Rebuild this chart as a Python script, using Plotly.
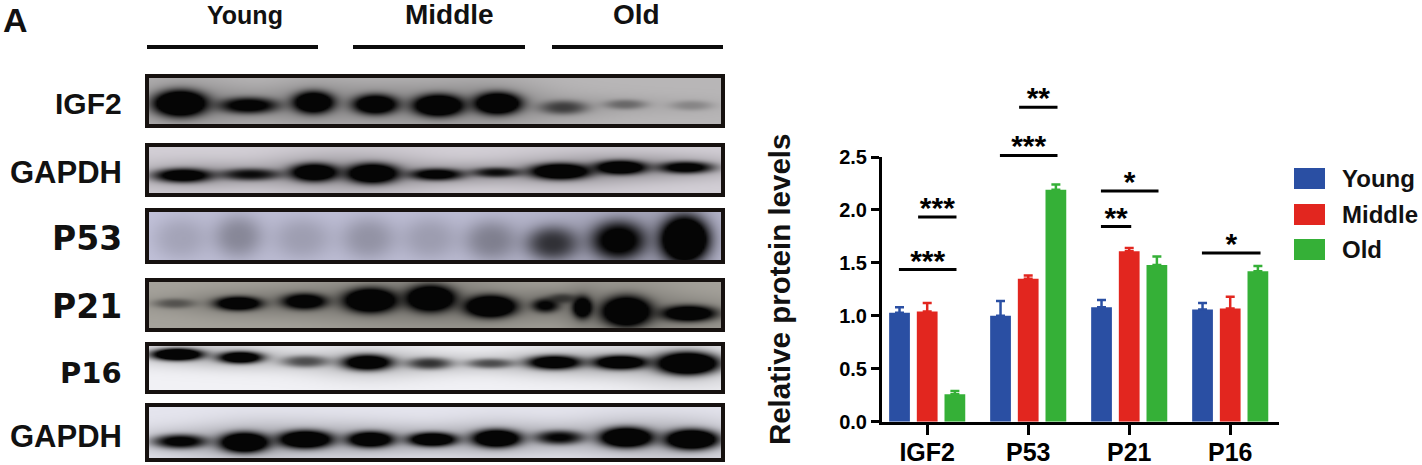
import numpy as np
import plotly.graph_objects as go

W, H = 1422, 465

# ---- bar chart values ----
proteins = ["IGF2", "P53", "P21", "P16"]
young = [1.03, 1.00, 1.08, 1.06]
middle = [1.04, 1.35, 1.61, 1.07]
old = [0.26, 2.19, 1.48, 1.42]
young_err = [0.05, 0.14, 0.07, 0.06]
middle_err = [0.08, 0.03, 0.03, 0.11]
old_err = [0.03, 0.05, 0.08, 0.05]

# significance brackets: (x0, x1, level, stars)
brackets = [
    (-0.28, 0.29, 1.437, "***"),
    (-0.09, 0.29, 1.934, "***"),
    (0.72, 1.29, 2.514, "***"),
    (0.91, 1.29, 2.97, "**"),
    (1.72, 2.29, 2.18, "*"),
    (1.72, 2.02, 1.843, "**"),
    (2.72, 3.30, 1.594, "*"),
]

# ---- western blot bands: (x, y, half width, half height, density) ----
igf2_bands = [(180, 103, 27, 13, 1.6), (248, 105, 30, 8, 1.0), (313, 102, 21, 11, 1.4),
              (375, 104, 23, 10, 1.3), (438, 105, 26, 11, 1.5), (497, 103, 24, 11, 1.5),
              (563, 107, 24, 7, .55), (625, 104, 21, 5, .35), (691, 105, 21, 5, .22)]
gapdh1_bands = [(183, 175, 30, 7, 1.1), (250, 174, 31, 6, .8), (314, 172, 25, 9, 1.3),
                (372, 173, 27, 10, 1.4), (436, 174, 28, 6, 1.0), (496, 172, 25, 5, .8),
                (560, 171, 31, 8, 1.4), (620, 167, 27, 7, 1.3), (685, 167, 28, 6, 1.0)]
p53_bands = [(179, 238, 27, 21, .13), (238, 236, 24, 21, .25), (302, 238, 28, 21, .15),
             (368, 238, 27, 21, .2), (429, 238, 27, 21, .15), (490, 240, 26, 20, .27),
             (552, 243, 26, 17, .62), (618, 240, 27, 19, 1.0), (684, 239, 24, 23, 1.6)]
p21_bands = [(174, 303, 21, 5, .4), (238, 303, 24, 7, 1.3), (304, 301, 23, 8, 1.2),
             (370, 300, 27, 12, 1.6), (430, 298, 25, 13, 1.6), (490, 306, 26, 11, 1.6),
             (545, 305, 14, 7, .9), (562, 298, 15, 5, .5), (582, 307, 10, 11, 1.3),
             (626, 311, 25, 15, 1.6), (688, 313, 28, 8, 1.3)]
p16_bands = [(177, 354, 26, 6, 1.4), (240, 357, 23, 6, 1.2), (305, 361, 24, 6, .55),
             (367, 362, 26, 8, 1.2), (429, 363, 23, 6, .65), (490, 363, 24, 5, .55),
             (554, 362, 28, 7, 1.2), (620, 362, 28, 7, 1.3), (687, 363, 31, 11, 1.6)]
gapdh2_bands = [(180, 441, 27, 7, .95), (244, 442, 25, 10, 1.5), (305, 439, 28, 9, 1.4),
                (370, 439, 24, 8, 1.3), (432, 439, 25, 7, 1.3), (496, 438, 25, 9, 1.4),
                (559, 437, 25, 7, .85), (626, 437, 27, 10, 1.5), (691, 439, 27, 10, 1.5)]

blots = [
    ("IGF2", igf2_bands, 78, 124, "#b8b6b7"),
    ("GAPDH", gapdh1_bands, 147, 193, "#d3cfd6"),
    ("P53", p53_bands, 212, 260, "#c4c4dc"),
    ("P21", p21_bands, 282, 328, "#a5a29b"),
    ("P16", p16_bands, 346, 390, "#f1f1f5"),
    ("GAPDH", gapdh2_bands, 407, 458, "#e5e5ee"),
]
blot_label_sizes = [30, 31, 33, 33, 29, 31]
blot_label_fonts = ["Liberation Sans", "Liberation Sans", "DejaVu Sans", "DejaVu Sans", "DejaVu Sans", "Liberation Sans"]
blot_left, blot_right = 149, 721


def render(bands, top, bottom):
    xs = np.arange(blot_left, blot_right + 1, 2.0)
    ys = np.arange(top, bottom + 1, 1.0)
    X, Y = np.meshgrid(xs, ys)
    light = np.ones_like(X)
    for cx, cy, rx, ry, d in bands:
        r2 = ((X - cx) / rx) ** 2 + ((Y - cy) / ry) ** 2
        core = d * np.exp(-r2 ** 1.4)
        halo = 0.22 * min(d, 1) * np.exp(-r2 / 4)
        light *= 1 - np.clip(core + halo, 0, 1)
    return xs, ys, 1 - light


fig = go.Figure()
layout = {}
FRAME = "#16110f"

for i, (name, bands, top, bottom, bg) in enumerate(blots, start=1):
    xs, ys, z = render(bands, top, bottom)
    fig.add_trace(go.Heatmap(x=xs, y=ys, z=z, zmin=0, zmax=1, zsmooth="best", showscale=False,
                             colorscale=[[0, bg], [1, "#050505"]], hoverinfo="skip",
                             xaxis=f"x{i}", yaxis=f"y{i}"))
    axis_common = dict(showgrid=False, zeroline=False, ticks="", showticklabels=False, automargin=False,
                       showline=True, mirror=True, linecolor=FRAME, linewidth=4)
    layout[f"xaxis{i}"] = dict(domain=[blot_left / W, blot_right / W], range=[blot_left, blot_right],
                               anchor=f"y{i}", **axis_common)
    layout[f"yaxis{i}"] = dict(domain=[1 - bottom / H, 1 - top / H], range=[bottom, top],
                               anchor=f"x{i}", **axis_common)

# ---- bar chart ----
positions = list(range(len(proteins)))
colors = {"Young": "#2a4fa3", "Middle": "#e2261f", "Old": "#35b037"}
for name, vals, errs in [("Young", young, young_err), ("Middle", middle, middle_err), ("Old", old, old_err)]:
    fig.add_trace(go.Bar(x=positions, y=vals, name=name, marker=dict(color=colors[name], line_width=0),
                         error_y=dict(type="data", symmetric=False, array=errs, arrayminus=[0] * 4,
                                      color=colors[name], thickness=2.5, width=4.5),
                         xaxis="x7", yaxis="y7", showlegend=False))

# brackets live on invisible axes with the same scale that run above 2.5
for x0, x1, level, stars in brackets:
    fig.add_trace(go.Scatter(x=[x0, x1], y=[level, level], mode="lines",
                             line=dict(color="black", width=3), xaxis="x8", yaxis="y8",
                             showlegend=False, hoverinfo="skip"))
    fig.add_trace(go.Scatter(x=[(x0 + x1) / 2], y=[level - 0.08], mode="text", text=[stars],
                             textposition="top center",
                             textfont=dict(family="Liberation Sans", size=30, color="black", weight="bold"),
                             xaxis="x8", yaxis="y8", showlegend=False, hoverinfo="skip"))

layout["xaxis7"] = dict(domain=[882 / W, 1279 / W], range=[-0.4475, 3.483], anchor="y7", automargin=False,
                        showgrid=False, zeroline=False, showline=True, linecolor="black", linewidth=3,
                        ticks="outside", ticklen=10, tickwidth=3, tickcolor="black",
                        tickmode="array", tickvals=positions, ticktext=proteins, ticklabelstandoff=-4,
                        tickfont=dict(family="Liberation Sans", size=25, color="black", weight="bold"))
layout["yaxis7"] = dict(domain=[1 - 421.7 / H, 1 - 157 / H], range=[0, 2.5], anchor="x7", automargin=False,
                        showgrid=False, zeroline=False, showline=True, linecolor="black", linewidth=3,
                        ticks="outside", ticklen=8, tickwidth=3, tickcolor="black",
                        tickvals=[0, 0.5, 1, 1.5, 2, 2.5], ticktext=["0.0", "0.5", "1.0", "1.5", "2.0", "2.5"],
                        tickfont=dict(family="Liberation Sans", size=20, color="black", weight="bold"),
                        title=dict(text="Relative protein levels", standoff=40,
                                   font=dict(family="Liberation Sans", size=29.5, color="#111", weight="bold")))
px_per_unit = (421.7 - 157) / 2.5
layout["xaxis8"] = dict(domain=[882 / W, 1279 / W], range=[-0.4475, 3.483], anchor="y8",
                        visible=False, automargin=False)
layout["yaxis8"] = dict(domain=[1 - 421.7 / H, 1 - (421.7 - 3.3 * px_per_unit) / H], range=[0, 3.3],
                        anchor="x8", visible=False, automargin=False)

# ---- text and furniture ----
annotations = []


def label(text, x, y, size, anchor="left", family="Liberation Sans"):
    annotations.append(dict(text=text, x=x / W, y=1 - y / H, xref="paper", yref="paper", xanchor=anchor,
                            yanchor="middle", showarrow=False,
                            font=dict(family=family, size=size, color="#111", weight="bold")))


label("A", 15, 20, 34, "center")
for text, x, size in [("Young", 245, 25), ("Middle", 449, 28), ("Old", 636, 28)]:
    label(text, x, 15, size, "center")

blot_label_y = [104, 172, 238, 306, 373, 436]
for (name, *_), y, size, fam in zip(blots, blot_label_y, blot_label_sizes, blot_label_fonts):
    label(name, 124, y, size, "right", fam)

shapes = []
for x0, x1 in [(147, 318), (353, 525), (552, 723)]:
    shapes.append(dict(type="rect", xref="paper", yref="paper", x0=x0 / W, x1=x1 / W,
                       y0=1 - 49 / H, y1=1 - 45 / H, fillcolor="#0c0c0c", line_width=0))

legend_names = ["Young", "Middle", "Old"]
legend_tops = [168, 204, 239]
for name, t in zip(legend_names, legend_tops):
    shapes.append(dict(type="rect", xref="paper", yref="paper", x0=1295 / W, x1=1324 / W,
                       y0=1 - (t + 20) / H, y1=1 - (t + 1) / H, fillcolor=colors[name],
                       line=dict(color=colors[name], width=2)))
    label(name, 1340, t + 10, 24, "left")

fig.update_layout(width=W, height=H, margin=dict(l=0, r=0, t=0, b=0, autoexpand=False), paper_bgcolor="white",
                  plot_bgcolor="rgba(0,0,0,0)", barmode="group", bargap=0.178, bargroupgap=0.25,
                  annotations=annotations, shapes=shapes, **layout)

fig.write_html("out.html", config={"displayModeBar": False}, post_script="document.body.style.margin='0';")
